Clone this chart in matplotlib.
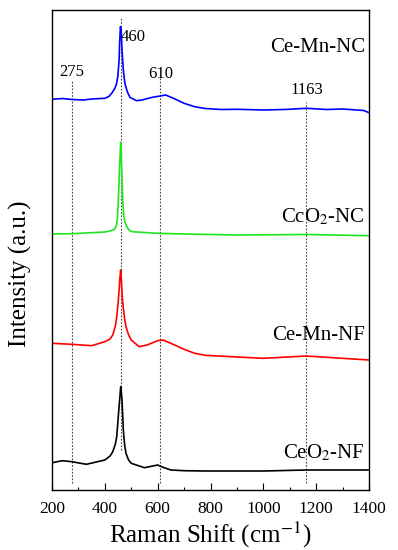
import numpy as np
import matplotlib
matplotlib.use("Agg")
import matplotlib.pyplot as plt

plt.rcParams['font.family'] = ['Liberation Serif', 'DejaVu Serif']
plt.rcParams['mathtext.fontset'] = 'stix'

# spectra (wavenumber, offset intensity in arbitrary units)
nc_mn_x = [200, 240, 275, 320, 350, 400, 415, 426, 438, 444, 449, 454, 456, 459, 462, 465, 470, 476, 485, 495,
           520, 540, 580, 610, 630, 660, 700, 740, 780, 840, 900, 1000, 1080, 1163, 1240, 1300, 1380, 1400]
nc_mn_y = [390.7, 391.5, 390.5, 390, 391, 391.7, 393.5, 396.7, 401.7, 406, 413.3, 430, 446.7, 463.3, 460, 440, 420, 406.7, 398.3, 392.7,
           389.3, 390, 392.7, 394, 395, 391.7, 386.7, 383.3, 381.5, 380.5, 380.7, 380, 380.5, 381.7, 380.5, 381, 379.5, 377.3]

nc_ce_x = [200, 275, 400, 420, 438, 445, 448, 451, 453, 455, 457, 460, 462, 464, 466, 468, 470, 472, 476, 483, 490, 502,
           600, 700, 900, 1163, 1400]
nc_ce_y = [256, 256.3, 258, 259, 261, 266, 274, 288, 302, 318, 330, 348, 338, 320, 302, 290, 281, 274, 268, 263.3, 260.5, 258.3,
           256.7, 256, 255, 255.5, 254.3]

nf_mn_x = [200, 275, 350, 400, 420, 430, 440, 445, 450, 455, 457, 460, 463, 465, 467, 470, 475, 480, 490, 500, 530, 560,
           600, 620, 650, 700, 740, 780, 900, 1000, 1163, 1300, 1400]
nf_mn_y = [146.7, 145.7, 144.3, 148.3, 151, 155, 164, 173.3, 186, 203.3, 212, 220, 208, 197, 190, 182, 171, 163.3, 155, 150, 143.3, 145,
           149.3, 150, 146.7, 140.7, 136.7, 134.7, 133, 131.7, 134, 131.7, 130]

nf_ce_x = [200, 240, 275, 330, 400, 420, 430, 440, 445, 452, 456, 460, 462, 465, 470, 475, 480, 490, 500, 550,
           600, 620, 650, 700, 780, 1000, 1163, 1400]
nf_ce_y = [27.3, 29.3, 28.3, 25.7, 30, 34, 38.3, 46, 53.3, 77, 90, 103.3, 99, 90, 60, 45, 36.7, 30, 26.7, 22.3,
           25, 22.7, 20, 19.3, 19, 19, 20, 20]

peaks = [275, 460, 610, 1163]
peak_top = [410, 473, 413, 388]
peak_bottom = [7, 40, 7, 7]
peak_labels = ['275', '460', '610', '1163']
peak_label_y = [418, 453, 416, 400]

names = ['Ce-Mn-NC', 'CcO$_2$-NC', 'Ce-Mn-NF', 'CeO$_2$-NF']
name_y = [443, 273, 155, 37]

fig = plt.figure(figsize=(3.98, 5.5), dpi=100)
ax = fig.add_axes([52/398, 60/550, 317/398, 480/550])

ax.vlines(peaks, peak_bottom, peak_top, colors='#444444', linestyles=(0, (1.5, 1.5)), linewidth=0.8)

ax.plot(nc_mn_x, nc_mn_y, color='#0000ff', lw=1.2)
ax.plot(nc_ce_x, nc_ce_y, color='#1ee61e', lw=1.2)
ax.plot(nf_mn_x, nf_mn_y, color='#ff0000', lw=1.2)
ax.plot(nf_ce_x, nf_ce_y, color='black', lw=1.2)

for p, lab, ly in zip(peaks, peak_labels, peak_label_y):
    if lab == '460':
        ax.text(p, ly, lab, ha='left', va='center', fontsize=12)
    else:
        ax.text(p, ly, lab, ha='center', va='center', fontsize=12)

for n, ny in zip(names, name_y):
    ax.text(1385, ny, n, ha='right', va='center', fontsize=15)

ax.set_xlim(200, 1400)
ax.set_ylim(0, 480)
ax.set_xticks(np.arange(200, 1401, 200))
ax.set_xticks(np.arange(300, 1400, 200), minor=True)
ax.set_yticks([])
ax.tick_params(axis='x', which='major', direction='in', length=5, width=0.8, labelsize=12.5, pad=8)
ax.tick_params(axis='x', which='minor', direction='in', length=2.5, width=0.8)
for s in ax.spines.values():
    s.set_linewidth(1.0)

ax.set_xlabel('Raman Shift (cm$^{-1}$)', fontsize=18, labelpad=2)
fig.text(20/398, 1 - 274/550, 'Intensity (a.u.)', rotation=90, ha='center', va='center', fontsize=18)

fig.savefig('out.png', dpi=100)
